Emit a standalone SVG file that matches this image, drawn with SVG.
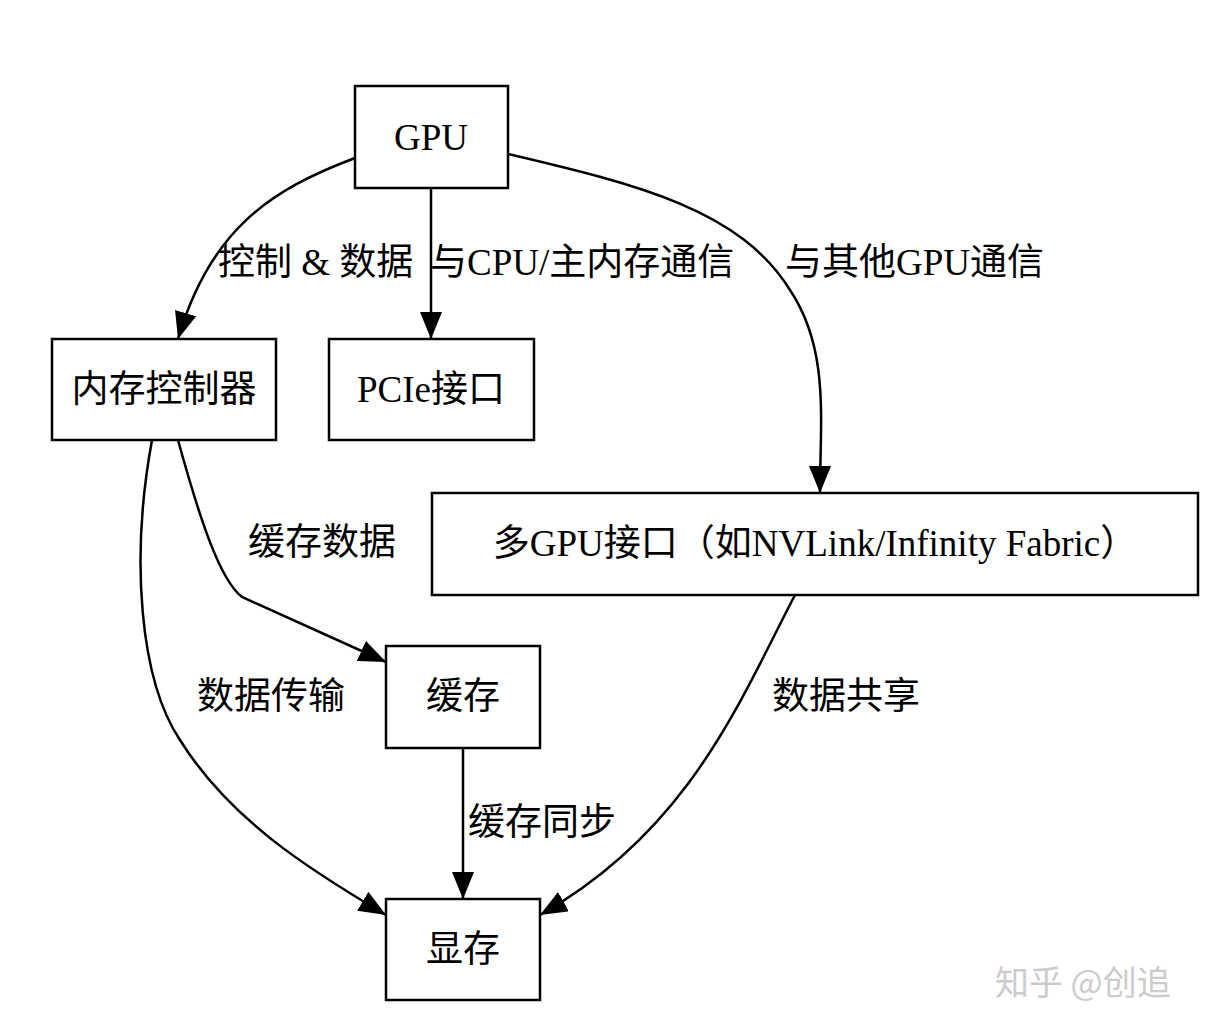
<svg xmlns="http://www.w3.org/2000/svg" width="1218" height="1031" viewBox="0 0 1218 1031">
<style>
.n rect{fill:#fff;stroke:#000;stroke-width:2.5}
text{font-family:"Liberation Serif","Noto Sans CJK SC",serif;font-size:37px;fill:#000}
.n text{text-anchor:middle}
.e path{fill:none;stroke:#000;stroke-width:2.5;marker-end:url(#a)}
</style>
<defs><marker id="a" markerUnits="userSpaceOnUse" markerWidth="30" markerHeight="24" refX="27" refY="11" orient="auto"><path d="M0,0L27,11L0,22z" fill="#000"/></marker></defs>
<rect width="1218" height="1031" fill="#fff"/>
<g class="e">
<path d="M355,158C270,190 210,230 178,339"/>
<path d="M431,188L431,339"/>
<path d="M508,154C640,185 740,210 790,290C830,350 820,420 820,493"/>
<path d="M178,440C200,520 220,580 242,597L386,662"/>
<path d="M152,440C130,560 140,680 180,740C230,820 310,870 386,915"/>
<path d="M463,748L463,899"/>
<path d="M795,595C740,700 690,830 540,915"/>
</g>
<g>
<text x="218" y="275">控制 &amp; 数据</text>
<text x="430" y="275">与CPU/主内存通信</text>
<text x="785" y="275">与其他GPU通信</text>
<text x="248" y="555">缓存数据</text>
<text x="197" y="709">数据传输</text>
<text x="468" y="835">缓存同步</text>
<text x="772" y="709">数据共享</text>
</g>
<g class="n" id="gpu"><rect x="355" y="86" width="153" height="102"/><text x="431" y="150">GPU</text></g>
<g class="n" id="mc"><rect x="52" y="339" width="224" height="101"/><text x="164" y="402">内存控制器</text></g>
<g class="n" id="pcie"><rect x="329" y="339" width="205" height="101"/><text x="431" y="402">PCIe接口</text></g>
<g class="n" id="multi"><rect x="432" y="493" width="766" height="102"/><text x="815" y="556">多GPU接口（如NVLink/Infinity Fabric）</text></g>
<g class="n" id="cache"><rect x="386" y="646" width="154" height="102"/><text x="463" y="709">缓存</text></g>
<g class="n" id="vram"><rect x="386" y="899" width="154" height="101"/><text x="463" y="962">显存</text></g>
<text x="995" y="995" style="font-family:'Noto Sans CJK SC',sans-serif;font-size:34px;fill:#ccc">知乎 @创追</text>
</svg>
